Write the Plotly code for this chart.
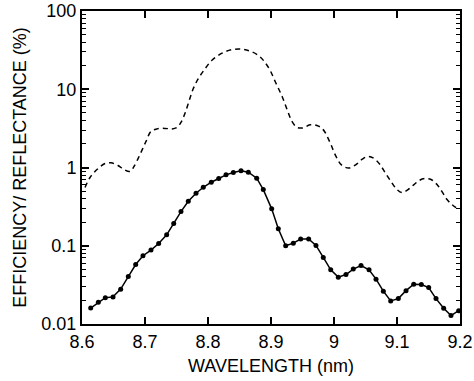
import plotly.graph_objects as go

# Efficiency (solid line with dots)
eff_wavelength = [8.6138, 8.6259, 8.6370, 8.6492, 8.6614, 8.6735, 8.6852, 8.6968, 8.7095, 8.7217,
                  8.7344, 8.7456, 8.7571, 8.7687, 8.7810, 8.7925, 8.8052, 8.8170, 8.8286, 8.8402,
                  8.8524, 8.8640, 8.8773, 8.8878, 8.9011, 8.9116, 8.9233, 8.9354, 8.9471, 8.9598,
                  8.9714, 8.9830, 8.9948, 9.0068, 9.0190, 9.0306, 9.0429, 9.0556, 9.0667, 9.0783,
                  9.0900, 9.1021, 9.1143, 9.1265, 9.1386, 9.1503, 9.1619, 9.1741, 9.1857, 9.1979]
efficiency = [0.0160, 0.0190, 0.0217, 0.0222, 0.0279, 0.0404, 0.0575, 0.0745, 0.0881, 0.107,
              0.138, 0.193, 0.273, 0.370, 0.469, 0.559, 0.648, 0.723, 0.806, 0.863,
              0.907, 0.871, 0.729, 0.522, 0.296, 0.165, 0.100, 0.108, 0.122, 0.122,
              0.101, 0.0708, 0.0492, 0.0397, 0.0429, 0.0503, 0.0559, 0.0492, 0.0374, 0.0263,
              0.0197, 0.0211, 0.0267, 0.0323, 0.0319, 0.0292, 0.0211, 0.0159, 0.0128, 0.0148]

# Reflectance (dashed line)
refl_wavelength = [8.6048, 8.6127, 8.6238, 8.6365, 8.6460, 8.6571, 8.6667, 8.6762, 8.6825, 8.6921,
                   8.7016, 8.7095, 8.7190, 8.7317, 8.7429, 8.7508, 8.7571, 8.7635, 8.7698, 8.7762,
                   8.7841, 8.7937, 8.8063, 8.8222, 8.8381, 8.8540, 8.8667, 8.8794, 8.8889, 8.8984,
                   8.9079, 8.9175, 8.9254, 8.9333, 8.9413, 8.9508, 8.9619, 8.9730, 8.9825, 8.9937,
                   9.0032, 9.0127, 9.0238, 9.0349, 9.0444, 9.0540, 9.0635, 9.0730, 9.0810, 9.0905,
                   9.1000, 9.1079, 9.1175, 9.1270, 9.1349, 9.1444, 9.1540, 9.1635, 9.1714, 9.1794,
                   9.1873, 9.1937, 9.1984]
reflectance = [0.555, 0.745, 0.942, 1.125, 1.148, 1.061, 0.942, 0.889, 1.030, 1.468,
               2.154, 2.894, 3.116, 3.162, 3.116, 3.257, 3.776, 4.924, 7.02, 10.0,
               13.43, 17.53, 23.5, 28.9, 32.1, 32.6, 30.7, 27.3, 22.9, 17.53,
               11.94, 8.13, 5.54, 3.89, 3.257, 3.21, 3.51, 3.45, 3.07, 2.09,
               1.384, 1.061, 0.986, 1.092, 1.267, 1.384, 1.304, 1.092, 0.863, 0.662,
               0.522, 0.478, 0.522, 0.605, 0.681, 0.723, 0.702, 0.605, 0.492, 0.389,
               0.336, 0.307, 0.290]

x_ticks = [8.6, 8.7, 8.8, 8.9, 9.0, 9.1, 9.2]
x_ticktext = ["8.6", "8.7", "8.8", "8.9", "9", "9.1", "9.2"]
y_ticks = [0.01, 0.1, 1, 10, 100]
y_ticktext = ["0.01", "0.1", "1", "10", "100"]

FONT = "Liberation Sans, Arial, sans-serif"

fig = go.Figure()
fig.add_trace(go.Scatter(
    x=refl_wavelength, y=reflectance, mode="lines",
    line=dict(color="black", width=1.5, dash="5px,4px", shape="spline"),
    showlegend=False))
fig.add_trace(go.Scatter(
    x=eff_wavelength, y=efficiency, mode="lines+markers",
    line=dict(color="black", width=1.5),
    marker=dict(color="black", size=5),
    showlegend=False))

fig.update_layout(
    width=474, height=381,
    margin=dict(l=82, r=14, t=11, b=57, autoexpand=False),
    paper_bgcolor="white", plot_bgcolor="white",
    font=dict(family=FONT, size=18, color="black"),
)
fig.update_xaxes(
    range=[8.6, 9.2], tickvals=x_ticks, ticktext=x_ticktext,
    ticks="inside", ticklen=7, tickwidth=1.5, tickcolor="black",
    showline=True, linecolor="black", linewidth=2, mirror="allticks",
    showgrid=False, zeroline=False, automargin=False,
    tickfont=dict(size=18), ticklabelstandoff=0, ticklabeloverflow="allow",
    title=dict(text="WAVELENGTH (nm)", font=dict(size=18), standoff=9),
)
fig.update_yaxes(
    type="log", range=[-2, 2], tickvals=y_ticks, ticktext=y_ticktext,
    ticks="inside", ticklen=7, tickwidth=1.5, tickcolor="black",
    minor=dict(ticks="inside", ticklen=4, tickwidth=1, tickcolor="black", dtick="D1", showgrid=False),
    showline=True, linecolor="black", linewidth=2, mirror="allticks",
    showgrid=False, zeroline=False, automargin=False,
    tickfont=dict(size=18), ticklabelstandoff=0, ticklabeloverflow="allow",
    title=dict(text="EFFICIENCY/ REFLECTANCE (%)", font=dict(size=18), standoff=10),
)

# remove the default page margin so the figure sits at the window's top-left corner
fig.write_html("out.html", config={"displayModeBar": False},
               post_script="document.body.style.margin='0';")
